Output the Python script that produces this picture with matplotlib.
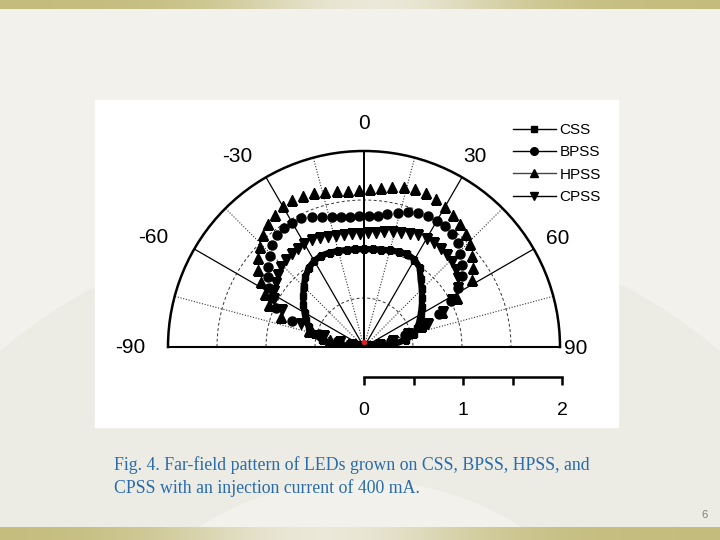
import numpy as np
import matplotlib
matplotlib.use('Agg')
import matplotlib.pyplot as plt
from matplotlib.lines import Line2D
from matplotlib.patches import Rectangle, Wedge

plt.rcParams['font.family'] = ['Liberation Sans', 'DejaVu Sans']

# ---- data (angle in degrees, relative intensity) ----
ang_css = [-90, -85, -80, -75, -70, -65, -60, -55, -50, -45, -40, -35, -30, -25, -20, -15, -10, -5, 0,
           5, 10, 15, 20, 25, 30, 35, 40, 45, 50, 55, 60, 65, 70, 75, 80, 85, 90]
css = [0.0, 0.3, 0.44, 0.53, 0.6, 0.655, 0.7, 0.755, 0.81, 0.87, 0.93, 0.985, 1.015, 1.03, 1.025, 1.015, 1.005, 1.0, 1.0,
       1.0, 1.01, 1.02, 1.035, 1.045, 1.03, 0.99, 0.9, 0.835, 0.775, 0.72, 0.67, 0.625, 0.58, 0.53, 0.44, 0.3, 0.0]

ang = [-86, -82, -78, -74, -70, -66, -62, -58, -54, -50, -46, -42, -38, -34, -30, -26, -22, -18, -14, -10, -6, -2,
       2, 6, 10, 14, 18, 22, 26, 30, 34, 38, 42, 46, 50, 54, 58, 62, 66, 70, 74, 78, 82, 86]
bpss = [0.05, 0.13, 0.27, 0.48, 0.78, 0.98, 1.068, 1.145, 1.216, 1.275, 1.337, 1.402, 1.449, 1.467, 1.466, 1.459,
        1.43, 1.395, 1.37, 1.348, 1.338, 1.334,
        1.337, 1.348, 1.376, 1.414, 1.446, 1.472, 1.489, 1.49, 1.484, 1.463, 1.428, 1.368, 1.301, 1.234, 1.133,
        1.0, 0.84, 0.64, 0.44, 0.28, 0.15, 0.05]
hpss = [0.06, 0.18, 0.35, 0.58, 0.9, 1.06, 1.145, 1.245, 1.336, 1.408, 1.474, 1.543, 1.597, 1.628, 1.658, 1.673,
        1.664, 1.648, 1.63, 1.613, 1.604, 1.6,
        1.61, 1.63, 1.66, 1.68, 1.69, 1.69, 1.68, 1.653, 1.626, 1.597, 1.558, 1.509, 1.444, 1.369, 1.294,
        1.07, 0.87, 0.62, 0.42, 0.27, 0.14, 0.05]
cpss = [0.04, 0.12, 0.25, 0.42, 0.68, 0.92, 1.04, 1.08, 1.115, 1.15, 1.178, 1.19, 1.2, 1.21, 1.215, 1.21,
        1.198, 1.18, 1.17, 1.16, 1.155, 1.155,
        1.16, 1.17, 1.19, 1.21, 1.225, 1.248, 1.267, 1.276, 1.277, 1.273, 1.267, 1.25, 1.225, 1.19, 1.13,
        1.02, 0.88, 0.7, 0.47, 0.3, 0.16, 0.06]

theta_ticks = [-90, -60, -30, 0, 30, 60, 90]
scale_ticks = [0, 0.5, 1, 1.5, 2]
scale_labels = ['0', '', '1', '', '2']

fig = plt.figure(figsize=(7.2, 5.4), dpi=100)
fig.patch.set_facecolor('#F2F1EB')

# slide background: faint fan, gold bars, white picture panel, caption
bg = fig.add_axes([0, 0, 1, 1], zorder=-10)
bg.axis('off')
bg.add_patch(Wedge((360, 780), 560, 200, 340, width=260, color='#ECEBE4', lw=0, zorder=0))
xs = np.linspace(0, 1, 720)
side = np.array([0.77, 0.74, 0.49])
mid = np.array([0.92, 0.91, 0.85])
w = np.exp(-((xs - 0.52) / 0.2) ** 2)
row = (1 - w)[:, None] * side + w[:, None] * mid
bg.imshow(np.tile(row[None], (2, 1, 1)), extent=(0, 720, 9, 0), aspect='auto', zorder=2)
w2 = np.exp(-((xs - 0.45) / 0.22) ** 2)
row2 = (1 - w2)[:, None] * side + w2[:, None] * mid
bg.imshow(np.tile(row2[None], (2, 1, 1)), extent=(0, 720, 540, 527), aspect='auto', zorder=2)
bg.add_patch(Rectangle((95, 100), 523, 327, color='white', zorder=3))
bg.set_xlim(0, 720)
bg.set_ylim(540, 0)
bg.text(114, 465, 'Fig. 4. Far-field pattern of LEDs grown on CSS, BPSS, HPSS, and',
        family='Liberation Serif', fontsize=12.8, color='#2a6cab', va='center', zorder=4)
bg.text(114, 488, 'CPSS with an injection current of 400 mA.',
        family='Liberation Serif', fontsize=12.8, color='#2a6cab', va='center', zorder=4)
bg.text(705, 515, '6', fontsize=8, color='#808080', ha='center', va='center', zorder=4)

# polar plot (half disk drawn at half the box size, so the box is doubled)
ax = fig.add_axes([-28 / 720, 1 - 445 / 540, 784 / 720, 392 / 540], projection='polar')
ax.set_theta_zero_location('N')
ax.set_theta_direction(-1)
ax.set_thetamin(-90)
ax.set_thetamax(90)
ax.set_ylim(0, 2)
ax.grid(False)
ax.set_xticks([])
ax.set_yticks([])
ax.spines['polar'].set_linewidth(1.8)
ax.spines['start'].set_linewidth(1.5)
ax.spines['end'].set_linewidth(1.5)

th = np.radians(np.linspace(-90, 90, 181))
for rr in [0.5, 1.0, 1.5]:
    ax.plot(th, np.full_like(th, rr), color='#333333', lw=0.7, ls=(0, (3, 2.5)))
for a in [-75, -45, -15, 15, 45, 75]:
    ax.plot([np.radians(a)] * 2, [0, 2], color='#333333', lw=0.8, ls=(0, (1, 1.5)))
for a in [-60, -30, 30, 60]:
    ax.plot([np.radians(a)] * 2, [0, 2], color='k', lw=0.9)
ax.plot([0, 0], [0, 2], color='k', lw=1.4)

ax.plot(np.radians(ang_css), css, color='k', lw=4.5, marker='s', ms=5, zorder=5)
ax.plot(np.radians(ang), bpss, ls='none', marker='o', ms=6.5, color='k', zorder=4)
ax.plot(np.radians(ang), hpss, ls='none', marker='^', ms=7, color='k', zorder=4)
ax.plot(np.radians(ang), cpss, ls='none', marker='v', ms=7, color='k', zorder=4)
ax.plot([0], [0.05], ls='none', marker='o', ms=3, color='#e02020', zorder=6)

label_pos = {-90: (-90.2, 2.39), -60: (-62.6, 2.42), -30: (-33.6, 2.33), 0: (0, 2.28),
             30: (30.1, 2.25), 60: (60.8, 2.26), 90: (90.3, 2.16)}
for t in theta_ticks:
    a, r = label_pos[t]
    ax.text(np.radians(a), r, str(t), fontsize=15, ha='center', va='center', clip_on=False)

handles = [Line2D([], [], color='k', lw=1, marker='s', ms=5),
           Line2D([], [], color='k', lw=1, marker='o', ms=5.5),
           Line2D([], [], color='#444444', lw=1, marker='^', ms=5.5, mfc='k', mec='k'),
           Line2D([], [], color='k', lw=1, marker='v', ms=5.5)]
fig.legend(handles, ['CSS', 'BPSS', 'HPSS', 'CPSS'], loc='upper left',
           bbox_to_anchor=(513 / 720, 1 - 123 / 540), frameon=False, fontsize=11,
           handlelength=2.8, handletextpad=0.25, labelspacing=0.55, borderpad=0, borderaxespad=0)

# radial scale bar
ax2 = fig.add_axes([364 / 720, 1 - 377 / 540, 198 / 720, 0.02])
ax2.patch.set_alpha(0)
for s in ['top', 'left', 'right']:
    ax2.spines[s].set_visible(False)
ax2.spines['bottom'].set_linewidth(1.8)
ax2.set_xlim(0, 2)
ax2.set_yticks([])
ax2.set_xticks(scale_ticks)
ax2.set_xticklabels(scale_labels)
ax2.tick_params(axis='x', direction='out', length=6, width=1.8, labelsize=14, pad=12)

fig.savefig('out.png', dpi=100, facecolor=fig.get_facecolor())
